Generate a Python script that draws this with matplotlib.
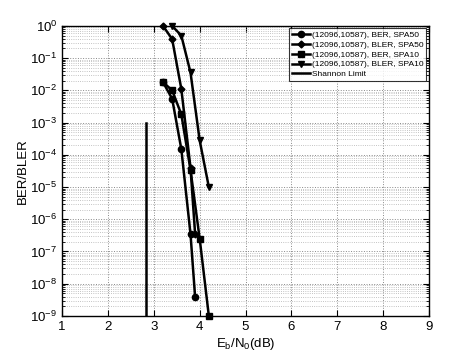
import matplotlib
matplotlib.use("Agg")
import matplotlib.pyplot as plt
from matplotlib.ticker import LogLocator, NullFormatter

plt.rcParams['font.family'] = ['Liberation Sans', 'DejaVu Sans']
plt.rcParams['mathtext.default'] = 'regular'

# BER SPA50 (cercles)
snr_ber50 = [3.2, 3.4, 3.6, 3.8, 3.9]
ber50 = [1.8e-2, 5.5e-3, 1.5e-4, 3.5e-7, 4e-9]
# BLER SPA50 (losanges)
snr_bler50 = [3.2, 3.4, 3.6, 3.8, 3.9]
bler50 = [1.0, 3.9e-1, 1.1e-2, 4e-5, 3.6e-7]
# BER SPA10 (carres)
snr_ber10 = [3.2, 3.4, 3.6, 3.8, 4.0, 4.2]
ber10 = [1.8e-2, 1.0e-2, 1.8e-3, 3.4e-5, 2.5e-7, 1e-9]
# BLER SPA10 (triangles)
snr_bler10 = [3.4, 3.6, 3.8, 4.0, 4.2]
bler10 = [1.0, 5.0e-1, 3.6e-2, 2.8e-4, 1e-5]
# limite de Shannon
shannon_x = [2.83, 2.83]
shannon_y = [1e-9, 1e-3]

fig = plt.figure(figsize=(4.74, 3.55), dpi=100)
ax = fig.add_axes([0.131, 0.110, 0.774, 0.817])

kw = dict(color='k', lw=1.8, markersize=4.5, clip_on=False, zorder=3)
ax.semilogy(snr_ber50, ber50, '-o', label='(12096,10587), BER, SPA50', **kw)
ax.semilogy(snr_bler50, bler50, '-D', label='(12096,10587), BLER, SPA50',
            color='k', lw=1.8, markersize=3.5, clip_on=False, zorder=3)
ax.semilogy(snr_ber10, ber10, '-s', label='(12096,10587), BER, SPA10', **kw)
ax.semilogy(snr_bler10, bler10, '-v', label='(12096,10587), BLER, SPA10', **kw)
ax.semilogy(shannon_x, shannon_y, '-', color='k', lw=1.8, label='Shannon Limit')

ax.set_xlim(1, 9)
ax.set_ylim(1e-9, 1)
ax.set_xticks(range(1, 10))
ax.yaxis.set_major_locator(LogLocator(base=10, numticks=20))
ax.yaxis.set_minor_locator(LogLocator(base=10, subs=range(2, 10), numticks=20))
ax.yaxis.set_minor_formatter(NullFormatter())

ax.grid(True, which='major', ls=':', color='#888888', lw=0.7)
ax.grid(True, which='minor', axis='y', ls=':', color='#b0b0b0', lw=0.6)
ax.tick_params(which='both', direction='in', top=True, right=True, labelsize=9.5)
ax.tick_params(which='major', length=4)
ax.tick_params(which='minor', length=2)
for s in ax.spines.values():
    s.set_linewidth(1.0)

ax.set_xlabel(r'E$_b$/N$_0$(dB)', fontsize=9.5, labelpad=2)
ax.set_ylabel('BER/BLER', fontsize=9.5, labelpad=1)

leg = ax.legend(loc='upper right', fontsize=6, frameon=True, fancybox=False,
                edgecolor='k', borderpad=0.3, labelspacing=0.25,
                handlelength=2.2, handletextpad=0.3, borderaxespad=0.3)
leg.get_frame().set_linewidth(0.8)

fig.savefig('out.png', dpi=100)
